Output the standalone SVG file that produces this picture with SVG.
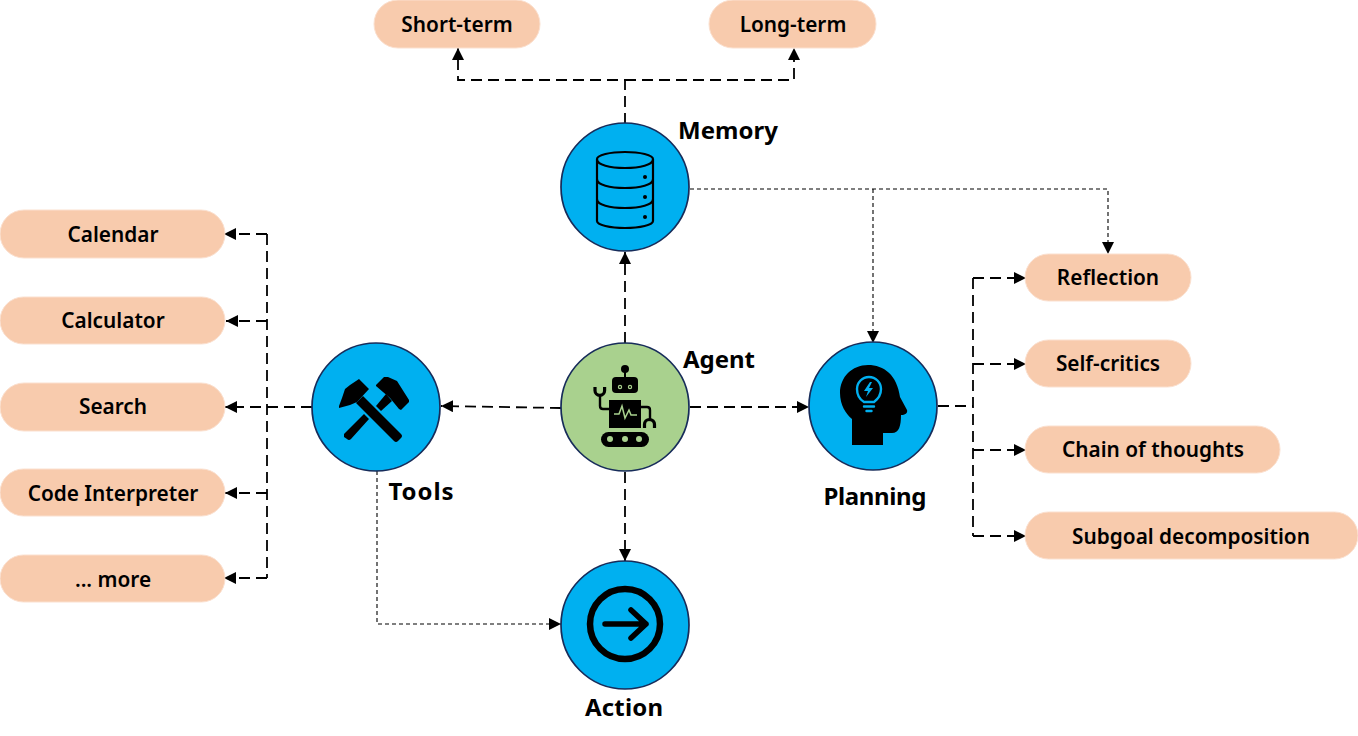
<svg xmlns="http://www.w3.org/2000/svg" width="1358" height="736" viewBox="0 0 1358 736">
<style>
.pill{fill:#f8cbad;stroke:#fbe0cf;stroke-width:1}
.t{font-family:"Noto Sans","Open Sans",sans-serif;font-weight:600;font-size:20.800px;fill:#000;text-anchor:middle}
.h{font-family:"Noto Sans","Open Sans",sans-serif;font-weight:700;font-size:24px;fill:#000;text-anchor:middle}
.c{fill:#00b0f0;stroke:#172c5a;stroke-width:1.7}
.g{fill:#a9d18e;stroke:#172c5a;stroke-width:1.7}
.d{fill:none;stroke:#000;stroke-width:1.8;stroke-dasharray:11 6}
.f{fill:none;stroke:#000;stroke-width:1.1;stroke-dasharray:4 3}
.k{fill:#000}
.ln{fill:none;stroke:#000;stroke-linecap:round;stroke-linejoin:round}
.cy{fill:none;stroke:#00b0f0;stroke-linecap:round;stroke-linejoin:round}
</style>
<defs>
<marker id="a" markerUnits="userSpaceOnUse" markerWidth="13" markerHeight="13" refX="12" refY="6" orient="auto"><path d="M0,0L12,6L0,12z" fill="#000"/></marker>
</defs>
<g id="connectors">
<path class="d" d="M625,124V80H458V48" marker-end="url(#a)"/>
<path class="d" d="M625,80H794V48" marker-end="url(#a)"/>
<path class="d" d="M625,343V252" marker-end="url(#a)"/>
<path class="d" d="M561,408L441,406" marker-end="url(#a)"/>
<path class="d" d="M690,407H809" marker-end="url(#a)"/>
<path class="d" d="M625,472V561" marker-end="url(#a)"/>
<path class="d" d="M312,407H225" marker-end="url(#a)"/>
<path class="d" d="M267,234H224" marker-end="url(#a)"/>
<path class="d" d="M267,321H226" marker-end="url(#a)"/>
<path class="d" d="M267,493H225" marker-end="url(#a)"/>
<path class="d" d="M267,578H224" marker-end="url(#a)"/>
<path class="d" d="M267,234V578"/>
<path class="d" d="M938,406H973"/>
<path class="d" d="M973,278V536"/>
<path class="d" d="M973,278H1026" marker-end="url(#a)"/>
<path class="d" d="M973,364H1026" marker-end="url(#a)"/>
<path class="d" d="M973,450H1026" marker-end="url(#a)"/>
<path class="d" d="M973,536H1026" marker-end="url(#a)"/>
<path class="f" d="M690,189H1108V254" marker-end="url(#a)"/>
<path class="f" d="M873,189V343" marker-end="url(#a)"/>
<path class="f" d="M377,471V624H561" marker-end="url(#a)"/>
</g>
<g id="short-term"><rect class="pill" x="374" y="0" width="166" height="48" rx="24"/><text class="t" x="457" y="32">Short-term</text></g>
<g id="long-term"><rect class="pill" x="709" y="0" width="167" height="48" rx="24"/><text class="t" x="793" y="32">Long-term</text></g>
<g id="calendar"><rect class="pill" x="0" y="210" width="225" height="48" rx="24"/><text class="t" x="113" y="242">Calendar</text></g>
<g id="calculator"><rect class="pill" x="0" y="297" width="225" height="47" rx="23.500"/><text class="t" x="113" y="328">Calculator</text></g>
<g id="search"><rect class="pill" x="0" y="383" width="225" height="48" rx="24"/><text class="t" x="113" y="414">Search</text></g>
<g id="code-interpreter"><rect class="pill" x="0" y="469" width="225" height="47" rx="23.500"/><text class="t" x="113" y="501">Code Interpreter</text></g>
<g id="more"><rect class="pill" x="0" y="555" width="225" height="47" rx="23.500"/><text class="t" x="113" y="587">... more</text></g>
<g id="reflection"><rect class="pill" x="1025" y="254" width="166" height="47" rx="23.500"/><text class="t" x="1108" y="285">Reflection</text></g>
<g id="self-critics"><rect class="pill" x="1025" y="340" width="166" height="47" rx="23.500"/><text class="t" x="1108" y="371">Self-critics</text></g>
<g id="chain-of-thoughts"><rect class="pill" x="1025" y="426" width="255" height="47" rx="23.500"/><text class="t" x="1153" y="457">Chain of thoughts</text></g>
<g id="subgoal-decomposition"><rect class="pill" x="1025" y="512" width="333" height="47" rx="23.500"/><text class="t" x="1191" y="544">Subgoal decomposition</text></g>
<g id="memory">
<circle class="c" cx="625" cy="187" r="64"/>
<path class="ln" stroke-width="2.200" d="M597,159V221C597,225 610,228 625,228C640,228 653,225 653,221V159M597,159C597,155 610,152 625,152C640,152 653,155 653,159C653,165 640,168 625,168C610,168 597,165 597,159M597,179C597,185 610,188 625,188C640,188 653,185 653,179M597,199C597,205 610,208 625,208C640,208 653,205 653,199"/>
<circle class="k" cx="645" cy="177" r="2"/><circle class="k" cx="645" cy="197" r="2"/><circle class="k" cx="645" cy="217" r="2"/>
<text class="h" x="728" y="139">Memory</text>
</g>
<g id="agent">
<circle class="g" cx="625" cy="407" r="64"/>
<circle class="k" cx="625" cy="369" r="4"/><rect class="k" x="624" y="371" width="2" height="7"/>
<rect class="k" x="612" y="377" width="26" height="16" rx="4"/>
<circle cx="620" cy="387" r="2.200" fill="#a9d18e"/><circle cx="630" cy="387" r="2.200" fill="#a9d18e"/>
<circle class="k" cx="620" cy="387" r="1"/><circle class="k" cx="630" cy="387" r="1"/>
<rect class="k" x="609" y="400" width="32" height="28"/>
<rect class="k" x="601" y="432" width="48" height="15" rx="7.500"/>
<circle cx="610" cy="439" r="3" fill="#a9d18e"/><circle cx="625" cy="439" r="3" fill="#a9d18e"/><circle cx="639" cy="439" r="3" fill="#a9d18e"/>
<path class="ln" stroke-width="2.400" d="M609,409H603Q600,409 600,406V396M641,407H647Q650,407 650,410V420"/>
<path fill="none" stroke="#000" stroke-width="3.200" d="M595,387V390.500A4.800,4.800 0 0 0 604.600,390.500V387"/>
<path fill="none" stroke="#000" stroke-width="3.200" d="M644.500,428V424.500A5,5 0 0 1 654.500,424.500V428"/>
<path fill="none" stroke="#a9d18e" stroke-width="1.500" d="M614,414H619L622,406L625,418L629,410L631,415H637"/>
<text class="h" x="719" y="368" textLength="72" lengthAdjust="spacing">Agent</text>
</g>
<g id="tools">
<circle class="c" cx="376" cy="407" r="64"/>
<path class="k" d="M358,401L363,396L401,434Q403,436 401,438L398,441Q396,443 394,441L356,403z"/>
<path class="k" d="M344,434L364,414L369,419L351,439Q349,441 347,439L344,437z"/>
<path class="k" d="M376,406L386,394L392,401L381,411z"/>
<path class="k" d="M376,385L384,377L388,377L397,381L409,400L409,402L401,410L399,409L390,398L376,386z"/>
<path class="k" d="M345,389L350,385L359,379L369,389L357,402L350,405L339,408L339,406L342,398z"/>
<text class="h" x="421" y="500" textLength="65" lengthAdjust="spacing">Tools</text>
</g>
<g id="planning">
<circle class="c" cx="873" cy="406" r="64"/>
<path class="k" d="M852,445H883V433H892C899,433 901,426 901,415C905,415 908,413 907,410L900,397C897,375 884,365 868,365C852,365 840,377 840,393C840,405 846,414 852,419z"/>
<path class="cy" stroke-width="2.400" d="M864,402C859,399 857,394 857,389A12,12 0 0 1 881,389C881,394 878,399 874,402zM864,406.500H874M866.500,411H871.500"/>
<path fill="#00b0f0" d="M870,382L864,391H868L866,397L873,388H869L872,382z"/>
<text class="h" x="875" y="505" textLength="103" lengthAdjust="spacing">Planning</text>
</g>
<g id="action">
<circle class="c" cx="625" cy="625" r="64"/>
<circle class="ln" stroke-width="6.500" cx="625" cy="624" r="35"/>
<path class="ln" stroke-width="5.500" d="M605,624H646M631,610L646,624L631,638"/>
<text class="h" x="624" y="716" textLength="78" lengthAdjust="spacing">Action</text>
</g>
</svg>
